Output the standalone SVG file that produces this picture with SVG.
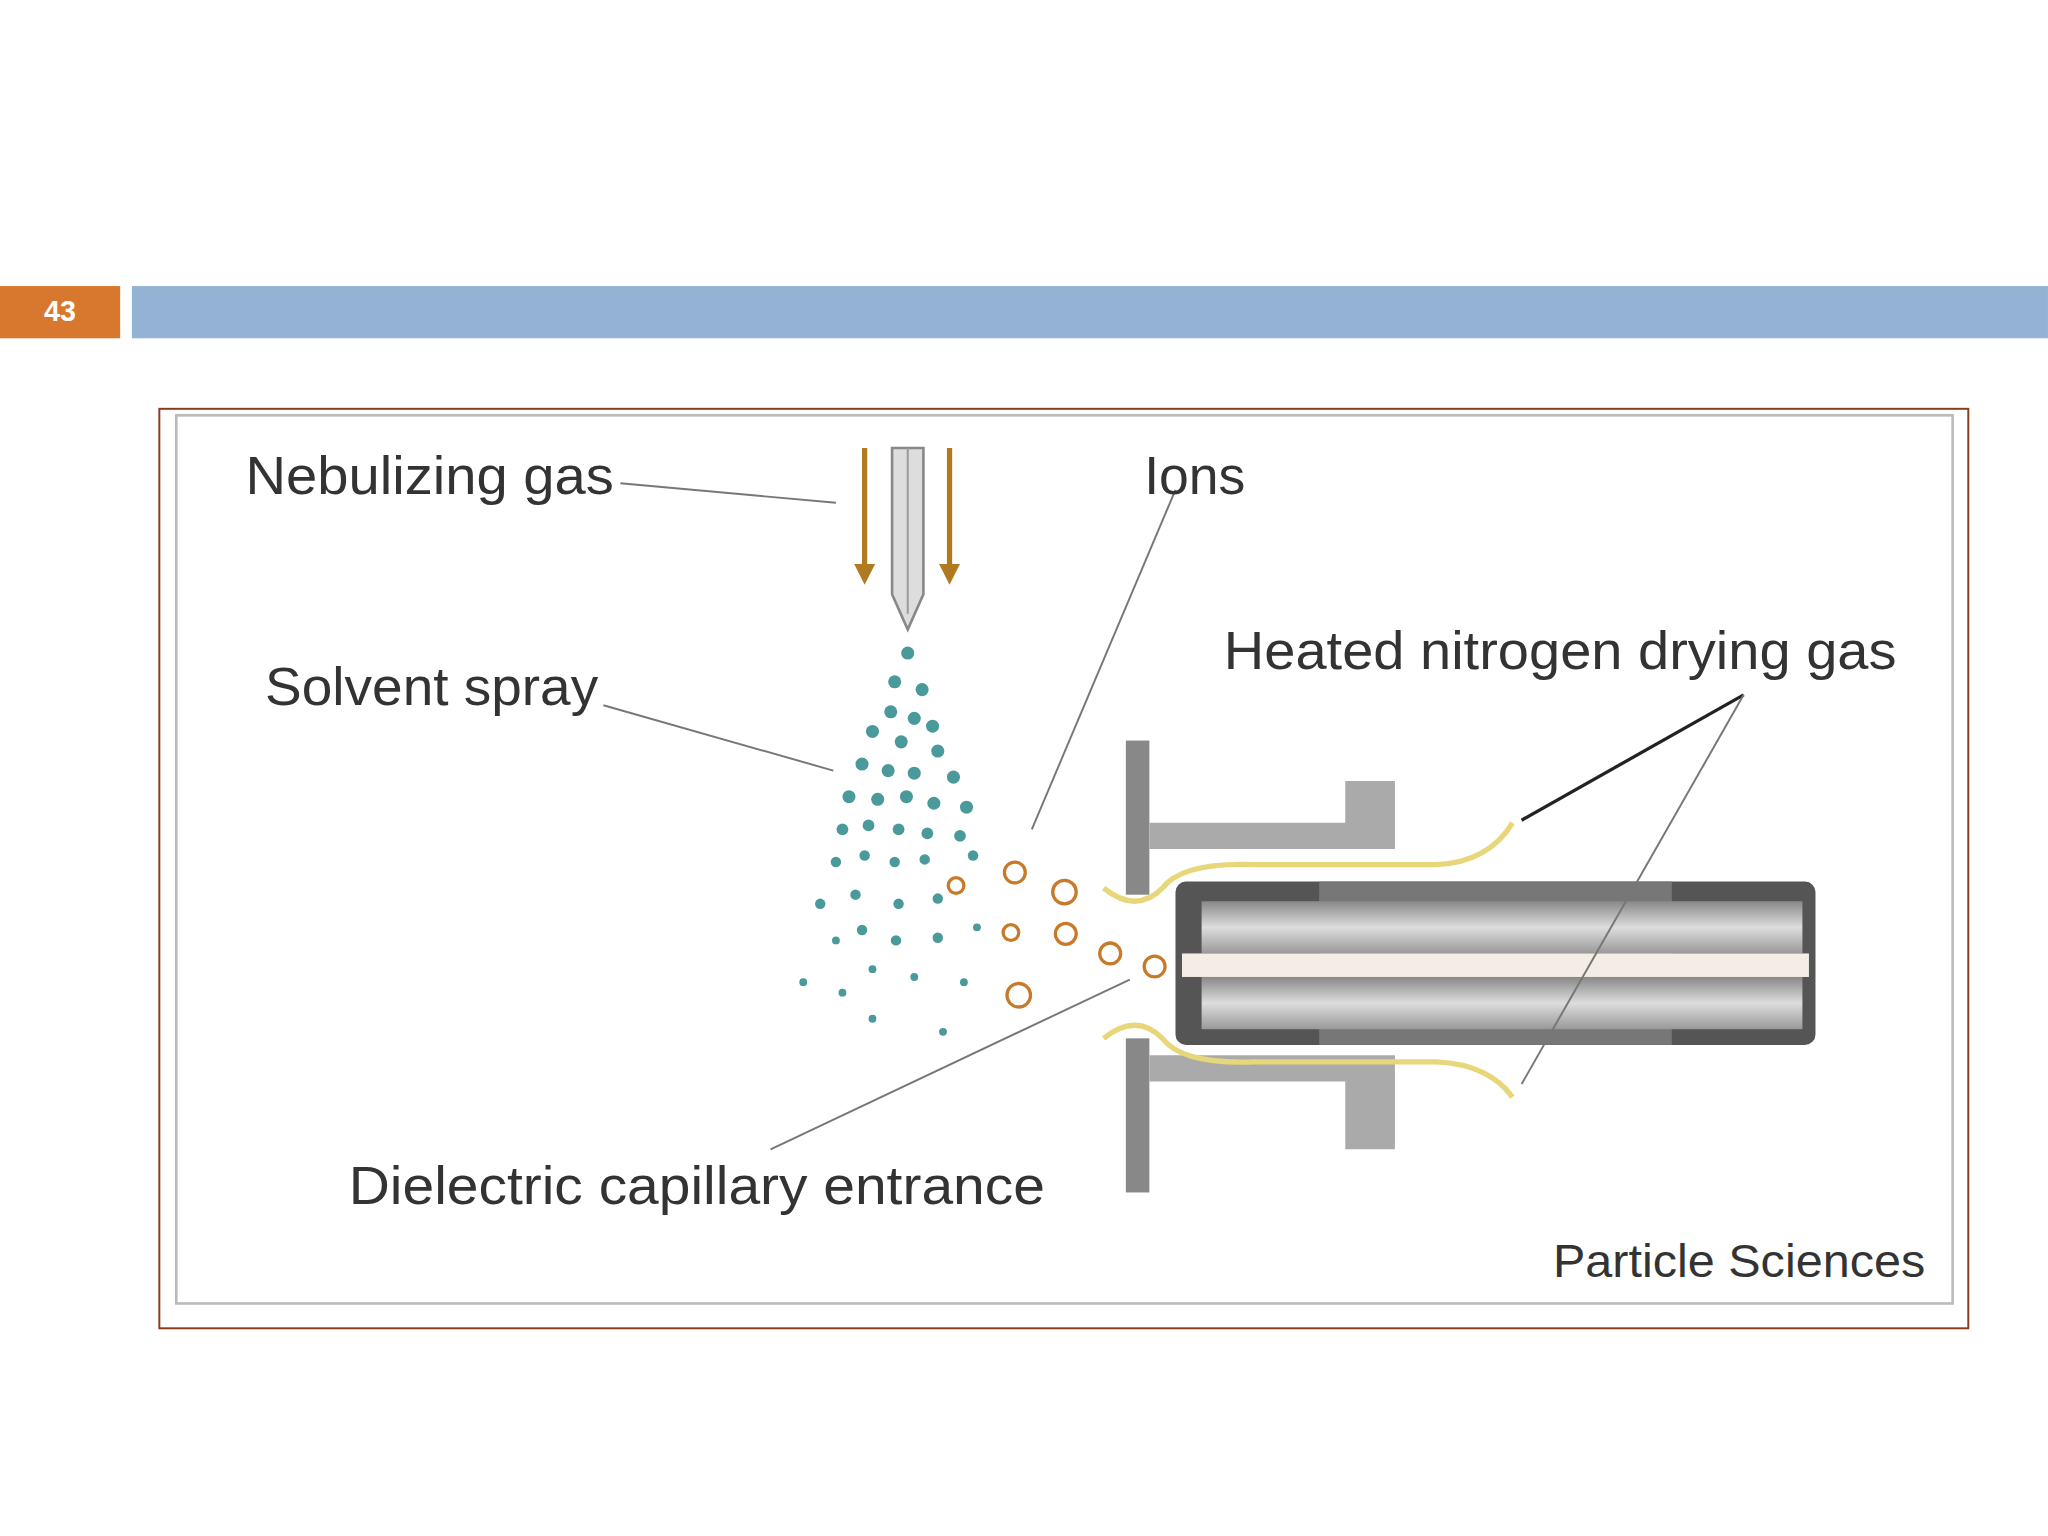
<svg xmlns="http://www.w3.org/2000/svg" width="2048" height="1536" viewBox="0 0 2048 1536">
<defs>
<style>
.lbl{font-family:"Liberation Sans",Arial,sans-serif;font-size:41px;fill:#333}
.lead{stroke:#777;stroke-width:1.5;fill:none}
.drop{fill:#4a9a9c}
.ion{fill:none;stroke:#c77a2a;stroke-width:2.5}
.yel{fill:none;stroke:#e8d77a;stroke-width:4}
</style>
<linearGradient id="tube" x1="0" y1="0" x2="0" y2="1"><stop offset="0" stop-color="#888"/><stop offset="0.5" stop-color="#ddd"/><stop offset="1" stop-color="#999"/></linearGradient>
<marker id="ah" viewBox="0 0 10 10" refX="2" refY="5" markerWidth="6" markerHeight="4" orient="auto"><path d="M0,0 L10,5 L0,10 z" fill="#b07a20"/></marker>
</defs>
<rect width="2048" height="1536" fill="#fff"/>
<g transform="scale(1.3061)">
<g id="header">
<rect x="0" y="219" width="92" height="40" fill="#D8782E"/>
<text x="46" y="246" text-anchor="middle" font-family="Liberation Sans,Arial,sans-serif" font-size="22" font-weight="bold" fill="#fff">43</text>
<rect x="101" y="219" width="1467" height="40" fill="#94B3D4"/>
</g>
<g id="frame">
<rect x="122" y="313" width="1385" height="704" fill="#fff" stroke="#8B3A1A" stroke-width="1.5"/>
<rect x="135" y="318" width="1360" height="680" fill="none" stroke="#bbb" stroke-width="2"/>
</g>
<g id="needle">
<path d="M683,343 H707 V455 L695,482 L683,455 Z" fill="#ddd" stroke="#888" stroke-width="2"/>
<line x1="695" y1="343" x2="695" y2="470" stroke="#999" stroke-width="1.5"/>
<line x1="662" y1="343" x2="662" y2="435" stroke="#b07a20" stroke-width="4" marker-end="url(#ah)"/>
<line x1="727" y1="343" x2="727" y2="435" stroke="#b07a20" stroke-width="4" marker-end="url(#ah)"/>
</g>
<g id="spray">
<circle class="drop" cx="695" cy="500" r="5"/><circle class="drop" cx="685" cy="522" r="5"/><circle class="drop" cx="706" cy="528" r="5"/>
<circle class="drop" cx="682" cy="545" r="5"/><circle class="drop" cx="700" cy="550" r="5"/><circle class="drop" cx="714" cy="556" r="5"/>
<circle class="drop" cx="668" cy="560" r="5"/><circle class="drop" cx="690" cy="568" r="5"/><circle class="drop" cx="718" cy="575" r="5"/>
<circle class="drop" cx="660" cy="585" r="5"/><circle class="drop" cx="680" cy="590" r="5"/><circle class="drop" cx="700" cy="592" r="5"/><circle class="drop" cx="730" cy="595" r="5"/>
<circle class="drop" cx="650" cy="610" r="5"/><circle class="drop" cx="672" cy="612" r="5"/><circle class="drop" cx="694" cy="610" r="5"/><circle class="drop" cx="715" cy="615" r="5"/><circle class="drop" cx="740" cy="618" r="5"/>
<circle class="drop" cx="645" cy="635" r="4.5"/><circle class="drop" cx="665" cy="632" r="4.5"/><circle class="drop" cx="688" cy="635" r="4.5"/><circle class="drop" cx="710" cy="638" r="4.5"/><circle class="drop" cx="735" cy="640" r="4.5"/>
<circle class="drop" cx="640" cy="660" r="4"/><circle class="drop" cx="662" cy="655" r="4"/><circle class="drop" cx="685" cy="660" r="4"/><circle class="drop" cx="708" cy="658" r="4"/><circle class="drop" cx="745" cy="655" r="4"/>
<circle class="drop" cx="628" cy="692" r="4"/><circle class="drop" cx="655" cy="685" r="4"/><circle class="drop" cx="688" cy="692" r="4"/><circle class="drop" cx="718" cy="688" r="4"/>
<circle class="drop" cx="640" cy="720" r="3"/><circle class="drop" cx="660" cy="712" r="4"/><circle class="drop" cx="686" cy="720" r="4"/><circle class="drop" cx="718" cy="718" r="4"/><circle class="drop" cx="748" cy="710" r="3"/>
<circle class="drop" cx="615" cy="752" r="3"/><circle class="drop" cx="645" cy="760" r="3"/><circle class="drop" cx="668" cy="742" r="3"/><circle class="drop" cx="700" cy="748" r="3"/><circle class="drop" cx="738" cy="752" r="3"/>
<circle class="drop" cx="668" cy="780" r="3"/><circle class="drop" cx="722" cy="790" r="3"/>
</g>
<g id="ions">
<circle class="ion" cx="777" cy="668" r="8"/><circle class="ion" cx="815" cy="683" r="9"/><circle class="ion" cx="732" cy="678" r="6"/>
<circle class="ion" cx="774" cy="714" r="6"/><circle class="ion" cx="816" cy="715" r="8"/><circle class="ion" cx="850" cy="730" r="8"/>
<circle class="ion" cx="884" cy="740" r="8"/><circle class="ion" cx="780" cy="762" r="9"/>
<circle class="ion" cx="930" cy="738" r="7"/><circle class="ion" cx="978" cy="738" r="7"/><circle class="ion" cx="1025" cy="738" r="7"/><circle class="ion" cx="1072" cy="738" r="7"/><circle class="ion" cx="1118" cy="738" r="7"/><circle class="ion" cx="1165" cy="738" r="7"/><circle class="ion" cx="1212" cy="738" r="7"/><circle class="ion" cx="1260" cy="738" r="7"/><circle class="ion" cx="1306" cy="738" r="7"/><circle class="ion" cx="1352" cy="738" r="7"/>
</g>
<g id="capillary">
<rect x="862" y="567" width="18" height="118" fill="#888"/>
<rect x="862" y="795" width="18" height="118" fill="#888"/>
<path d="M880,630 H1030 V598 H1068 V650 H880 Z" fill="#aaa"/>
<path d="M880,828 H1030 V880 H1068 V808 H880 Z" fill="#aaa"/>
<rect x="900" y="675" width="490" height="125" rx="8" fill="#555"/>
<rect x="1010" y="675" width="270" height="125" fill="#777"/>
<rect x="920" y="690" width="460" height="40" fill="url(#tube)"/>
<rect x="920" y="748" width="460" height="40" fill="url(#tube)"/>
<rect x="905" y="730" width="480" height="18" fill="#f3ede6"/>
<path class="yel" d="M845,680 Q870,700 890,680 Q905,660 960,662 H1100 Q1140,660 1158,630"/>
<path class="yel" d="M845,795 Q870,775 890,795 Q905,815 960,813 H1100 Q1140,815 1158,840"/>
</g>
<g id="connectors">
<line class="lead" x1="475" y1="370" x2="640" y2="385"/>
<line class="lead" x1="462" y1="540" x2="638" y2="590"/>
<line class="lead" x1="900" y1="375" x2="790" y2="635"/>
<line x1="1335" y1="532" x2="1165" y2="628" stroke="#222" stroke-width="2.5"/>
<line class="lead" x1="1335" y1="532" x2="1165" y2="830"/>
<line class="lead" x1="590" y1="880" x2="865" y2="750"/>
</g>
<g id="labels">
<text class="lbl" x="188" y="378" textLength="282" lengthAdjust="spacingAndGlyphs">Nebulizing gas</text>
<text class="lbl" x="876" y="378">Ions</text>
<text class="lbl" x="203" y="540" textLength="255" lengthAdjust="spacingAndGlyphs">Solvent spray</text>
<text class="lbl" x="937" y="512" textLength="515" lengthAdjust="spacingAndGlyphs">Heated nitrogen drying gas</text>
<text class="lbl" x="267" y="922" textLength="533" lengthAdjust="spacingAndGlyphs">Dielectric capillary entrance</text>
<text class="lbl" x="1189" y="978" style="font-size:35px" textLength="285" lengthAdjust="spacingAndGlyphs">Particle Sciences</text>
</g>
</g>
</svg>
